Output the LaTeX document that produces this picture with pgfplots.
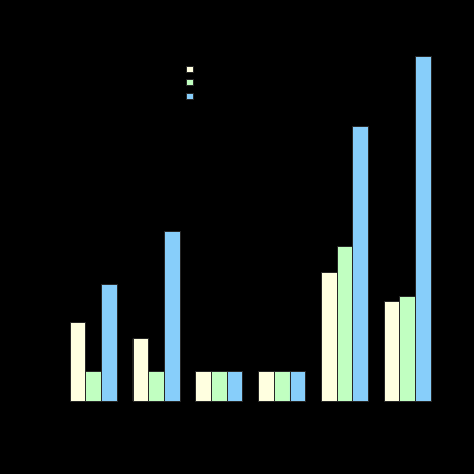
\documentclass[border=0pt]{standalone}
\usepackage{pgfplots}
\pgfplotsset{compat=1.18}
\definecolor{cyel}{HTML}{FFFFE0}
\definecolor{cgrn}{HTML}{C1FFC1}
\definecolor{cblu}{HTML}{87CEFA}
\begin{document}
\begin{tikzpicture}
\fill[black] (0,0) rectangle (237pt,237pt);
\begin{axis}[
  at={(31.15pt,36.5pt)}, anchor=south west,
  scale only axis, width=188.4pt, height=175.8pt,
  xmin=-0.5, xmax=5.5, ymin=0, ymax=12,
  axis lines=none, ticks=none,
  ybar=0pt, bar width=7.85pt,
  clip=false,
  every axis plot/.append style={draw=black!85, line width=0.4pt},
  legend image code/.code={\draw[#1] (0pt,-1.5pt) rectangle (3.5pt,1.5pt);},
  legend style={at={(0.3275,0.9626)}, anchor=north west, draw=none, fill=none,
    inner sep=0pt, outer sep=0pt, row sep=0pt,
    nodes={inner sep=0pt, minimum height=6.75pt, text=black}},
]
\addplot[fill=cyel] coordinates {(0,2.67) (1,2.13) (2,1) (3,1) (4,4.39) (5,3.41)};
\addlegendentry{\mbox{}}
\addplot[fill=cgrn] coordinates {(0,1) (1,1) (2,1) (3,1) (4,5.27) (5,3.57)};
\addlegendentry{\mbox{}}
\addplot[fill=cblu] coordinates {(0,3.98) (1,5.80) (2,1) (3,1) (4,9.36) (5,11.76)};
\addlegendentry{\mbox{}}
\end{axis}
\end{tikzpicture}
\end{document}
